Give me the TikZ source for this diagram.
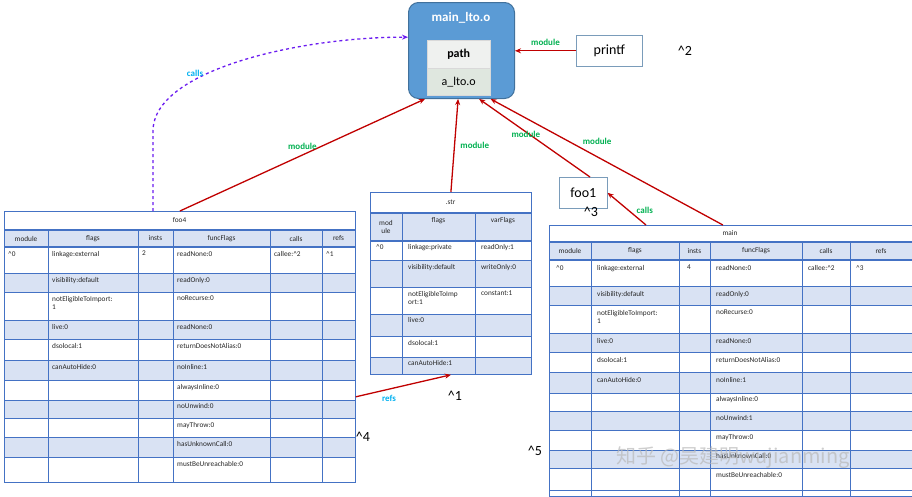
\documentclass[tikz,border=0pt]{standalone}
\usepackage{fontspec}
\setmainfont{Carlito}
\newfontfamily\cjk{Noto Sans CJK SC}
\usetikzlibrary{calc,arrows.meta,positioning}
\definecolor{tb}{HTML}{4472C4}
\definecolor{tf}{HTML}{D9E2F3}
\definecolor{bx}{HTML}{5B9BD5}
\definecolor{bxd}{HTML}{41719C}
\definecolor{rd}{HTML}{C00000}
\definecolor{gn}{HTML}{00B050}
\definecolor{cy}{HTML}{00B0F0}
\definecolor{pu}{HTML}{6A1BF0}
\tikzset{
 mod/.style={draw=rd,line width=1.3pt,-{Stealth[length=6pt,width=5pt]}},
 glab/.style={text=gn,font=\fontsize{9}{10}\selectfont\bfseries},
 clab/.style={text=cy,font=\fontsize{9}{10}\selectfont\bfseries},
 cell/.style={anchor=north west,inner sep=0pt,align=left,font=\fontsize{7.3}{8.6}\selectfont,text=black!85},
 hd/.style={inner sep=0pt,align=center,font=\fontsize{7.3}{8.6}\selectfont,text=black!85},
 tbox/.style={draw=tb,line width=0.8pt,anchor=north west,inner sep=0pt},
 grid/.style={draw=tb,line width=0.5pt},
 big/.style={font=\fontsize{14}{16}\selectfont},
 wbox/.style={draw=bxd!70,fill=white,line width=0.6pt,big,inner sep=0pt}
}
\begin{document}
\begin{tikzpicture}[x=1pt,y=-1pt]
\useasboundingbox (0,0) rectangle (912,496);
% ---------- main_lto.o
\node[draw=bxd,fill=bx,rounded corners=10pt,line width=1pt,minimum width=106pt,minimum height=96pt,anchor=north west] (main) at (408,2) {};
\node[text=white,font=\fontsize{13}{15}\selectfont\bfseries] (mt) at (461,18) {main\_lto.o};
\node[draw=white!70!gray,fill=green!6!gray!12,minimum width=63pt,minimum height=28pt,anchor=north west,font=\fontsize{12}{14}\selectfont\bfseries] (path) at (427,40) {path};
\node[draw=white!70!gray,fill=green!15!gray!22,minimum width=63pt,minimum height=27pt,anchor=north west,font=\fontsize{12}{14}\selectfont] (alto) at (427,68) {a\_lto.o};
\node[wbox,minimum width=66pt,minimum height=31pt,anchor=north west,font=\fontsize{14}{16}\selectfont] (printf) at (576,35) {printf};
\node[big] (n2) at (685,51) {\^{}2};
\node[wbox,minimum width=48pt,minimum height=31pt,anchor=north west] (foo1) at (559,177) {foo1};
\node[big] (n3) at (591,212) {\^{}3};
\node[big] (n1) at (455,396) {\^{}1};
\node[big] (n4) at (363,437) {\^{}4};
\node[big] (n5) at (535,451) {\^{}5};
% ---------- foo4 table
\foreach \a/\b in {230/247,273/292,320/339,360/380,400/418,437/457}
  \fill[tf] (4,\a) rectangle (355,\b);
\foreach \y in {230,247,273,292,320,339,360,380,400,418,437,457}
  \draw[grid] (4,\y) -- (355,\y);
\foreach \x in {48,138,173,270,322}
  \draw[grid] (\x,230) -- (\x,482);
\draw[draw=tb,line width=1.2pt] (4,230) -- (355,230) (4,247) -- (355,247);
\node[hd] (f4t) at (179.5,220) {foo4};
\foreach \c/\t in {26/module,93/flags,155.5/insts,221.5/funcFlags,296/calls,338.5/refs}
  \node[hd] at (\c,238.5) {\t};
\node[cell] at (8,251) {\^{}0};
\node[cell] at (142,251) {2};
\node[cell] at (274,251) {callee:\^{}2};
\node[cell] at (326,251) {\^{}1};
\foreach \y/\t in {251/linkage:external,277/visibility:default,296/{notEligibleToImport:\\1},324/live:0,343/dsolocal:1,364/canAutoHide:0}
  \node[cell] at (52,\y) {\t};
\foreach \y/\t in {251/readNone:0,277/readOnly:0,296/noRecurse:0,324/readNone:0,343/returnDoesNotAlias:0,364/noInline:1,384/alwaysInline:0,403/noUnwind:0,422/mayThrow:0,441/hasUnknownCall:0,461/mustBeUnreachable:0}
  \node[cell] at (177,\y) {\t};
\node[tbox,minimum width=351pt,minimum height=271pt] (foo4) at (4,211) {};
% ---------- .str table
\foreach \a/\b in {213/241,260/287,314/336,357/374}
  \fill[tf] (370,\a) rectangle (531,\b);
\foreach \y in {213,241,260,287,314,336,357}
  \draw[grid] (370,\y) -- (531,\y);
\foreach \x in {402,475}
  \draw[grid] (\x,213) -- (\x,374);
\draw[draw=tb,line width=1.2pt] (370,213) -- (531,213) (370,241) -- (531,241);
\node[hd] (strt) at (450.5,202) {.str};
\node[hd] at (386,227) {mod\\ule};
\node[hd,anchor=north] at (438.5,217) {flags};
\node[hd,anchor=north] at (503,217) {varFlags};
\node[cell] at (376,244) {\^{}0};
\foreach \y/\t in {244/linkage:private,264/visibility:default,291/{notEligibleToImp\\ort:1},317/live:0,340/dsolocal:1,360/canAutoHide:1}
  \node[cell] at (408,\y) {\t};
\foreach \y/\t in {244/readOnly:1,264/writeOnly:0,291/constant:1}
  \node[cell] at (481,\y) {\t};
\node[tbox,minimum width=161pt,minimum height=182pt] (str) at (370,192) {};
% ---------- main table
\foreach \a/\b in {242/260,286/305,333/352,372/393,411/430,450/468}
  \fill[tf] (549,\a) rectangle (912,\b);
\foreach \y in {242,260,286,305,333,352,372,393,411,430,450,468,490}
  \draw[grid] (549,\y) -- (912,\y);
\foreach \x in {591,679,710,802,850}
  \draw[grid] (\x,242) -- (\x,496);
\draw[draw=tb,line width=1.2pt] (549,242) -- (912,242) (549,260) -- (912,260);
\node[hd] (mtt) at (730,233) {main};
\foreach \c/\t in {570/module,635/flags,694.5/insts,756/funcFlags,826/calls,881/refs}
  \node[hd] at (\c,251) {\t};
\node[cell] at (556,265) {\^{}0};
\node[cell] at (687,265) {4};
\node[cell] at (808,265) {callee:\^{}2};
\node[cell] at (856,265) {\^{}3};
\foreach \y/\t in {265/linkage:external,291/visibility:default,310/{notEligibleToImport:\\1},338/live:0,357/dsolocal:1,377/canAutoHide:0}
  \node[cell] at (597,\y) {\t};
\foreach \y/\t in {265/readNone:0,291/readOnly:0,310/noRecurse:0,338/readNone:0,357/returnDoesNotAlias:0,377/noInline:1,396/alwaysInline:0,415/noUnwind:1,434/mayThrow:0,453/hasUnknownCall:0,472/mustBeUnreachable:0}
  \node[cell] at (716,\y) {\t};
\node[tbox,minimum width=363pt,minimum height=271pt] (mainT) at (549,225) {};
% ---------- connectors
\draw[mod] (foo4.north) -- node[glab,pos=0.5,above=1pt] {module} (main.-127);
\draw[mod] (str.north) -- node[glab,pos=0.5,right=2pt] {module} (main.-94);
\draw[mod] ($(foo1.north west)+(31,0)$) -- node[glab,pos=0.45,above left=0pt and -4pt] {module} (main.-70.5);
\draw[mod] ($(mainT.north)+(-8,0)$) -- node[glab,pos=0.62,above right=-2pt and 0pt] {module} (main.-59);
\draw[mod] (printf.west) -- node[glab,above=1pt] {module} (main.east|-printf.west);
\draw[mod] ($(mainT.north west)+(97,0)$) -- node[glab,pos=0.45,right=4pt] {calls} (foo1.east);
\draw[mod] ($(foo4.south east)+(0,-86)$) -- node[clab,pos=0.35,below=2pt] {refs} (str.south);
\draw[draw=pu,line width=1.3pt,dashed,-{Stealth[length=6pt,width=5pt]}] ($(foo4.north west)+(149,0)$) -- ++(0,-80) .. controls (153,70) and (300,37) .. (main.166);
\node[clab] (cl) at (195,73) {calls};
% watermark
\node[text=gray!55,opacity=0.7,font=\cjk\fontsize{20}{22}\selectfont] (wm) at (733,458) {知乎 @吴建明wujianming};
\end{tikzpicture}
\end{document}
